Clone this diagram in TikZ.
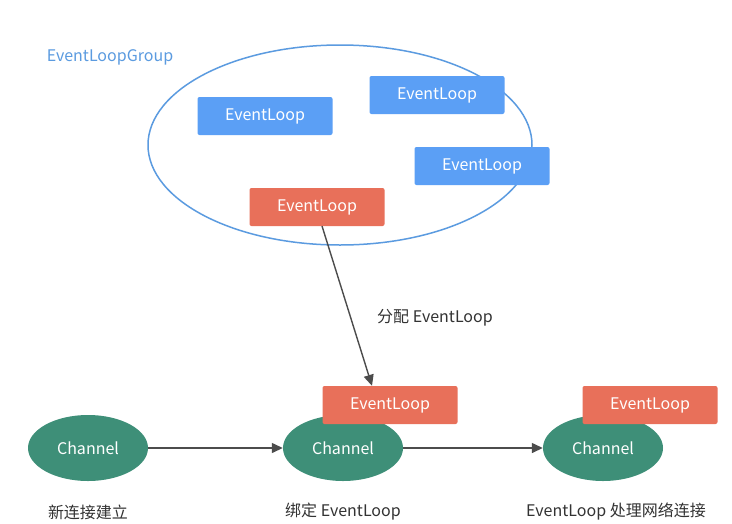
\documentclass[tikz,border=0pt]{standalone}
\usepackage{fontspec}
\setmainfont{Noto Sans CJK SC}
\usetikzlibrary{shapes.geometric,arrows.meta}
\definecolor{eblue}{HTML}{5B9FF5}
\definecolor{lblue}{HTML}{5B9BE0}
\definecolor{ered}{HTML}{E8705A}
\definecolor{egreen}{HTML}{3E8F78}
\definecolor{tgray}{HTML}{333333}
\begin{document}
\begin{tikzpicture}[x=1pt,y=-1pt,
  box/.style={rectangle,rounded corners=2pt,minimum width=135pt,minimum height=38pt,text=white,font=\fontsize{16}{18}\selectfont,inner sep=0pt},
  bb/.style={box,fill=eblue},
  rb/.style={box,fill=ered},
  ch/.style={ellipse,fill=egreen,minimum width=120pt,minimum height=66pt,text=white,font=\fontsize{16}{18}\selectfont,inner sep=0pt},
  lab/.style={text=tgray,font=\fontsize{16}{18}\selectfont},
  arr/.style={draw=black!70,line width=1.4pt,-{Triangle[length=11pt,width=10pt]}}]
\useasboundingbox[fill=white] (0,0) rectangle (732,523);
\node[ellipse,draw=lblue,line width=1.5pt,minimum width=384pt,minimum height=200pt] (grp) at (340,145) {};
\node[text=lblue,font=\fontsize{16}{18}\selectfont] (gl) at (110,57) {EventLoopGroup};
\node[bb] (b1) at (265,116) {EventLoop};
\node[bb] (b2) at (437,95) {EventLoop};
\node[bb] (b3) at (482,166) {EventLoop};
\node[rb] (r0) at (317,207) {EventLoop};
\node[ch] (c1) at (88,448) {Channel};
\node[ch] (c2) at (343,448) {Channel};
\node[ch] (c3) at (603,448) {Channel};
\node[rb] (r1) at (390,405) {EventLoop};
\node[rb] (r2) at (650,405) {EventLoop};
\coordinate (s0) at (322,226);
\draw[arr] (s0) -- (r1.north -| 372,0);
\node[lab] (al) at (435,318) {分配 EventLoop};
\draw[arr] (c1) -- (c2);
\draw[arr] (c2) -- (c3);
\node[lab] (l1) at (88,512) {新连接建立};
\node[lab] (l2) at (343,512) {绑定 EventLoop};
\node[lab] (l3) at (616,512) {EventLoop 处理网络连接};
\end{tikzpicture}
\end{document}
